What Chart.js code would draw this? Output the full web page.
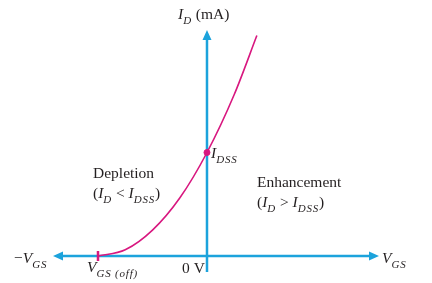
<!DOCTYPE html>
<html>
<head>
<meta charset="utf-8">
<script src="https://cdn.jsdelivr.net/npm/chart.js@4"></script>
<style>
  body { margin: 0; background: #fff; }
  #wrap { width: 432px; height: 283px; position: relative; }
</style>
</head>
<body>
<div id="wrap"><canvas id="fetChart"></canvas></div>
<script>
// Transfer curve (VGS in volts, ID in mA, VGS(off) = -4 V)
const vgsValues = [-4, -3, -2, -1, 0, 1, 1.83];
const idValues = [0, 0.6, 2.5, 5.6, 10, 15.6, 21.3];
// marked points
const idssPoint = [0, 10];
const offPoint = [-4, 0];

const cyan = '#1ca3dc';
const magenta = '#d8177f';
const serif = '"Liberation Serif", "Times New Roman", serif';

// draw text made of pieces: [text, italic, subscript]
function richText(ctx, x, y, parts, size) {
  parts.forEach(function(p) {
    const s = p[2] ? 11 : size;
    ctx.font = (p[1] ? 'italic ' : '') + s + 'px ' + serif;
    ctx.letterSpacing = p[2] ? '0.8px' : '0px';
    ctx.fillText(p[0], x, p[2] ? y + 4.5 : y);
    x += ctx.measureText(p[0]).width;
  });
}

const axesPlugin = {
  id: 'arrowAxes',
  beforeDatasetsDraw(chart) {
    const ctx = chart.ctx;
    const a = chart.chartArea;
    const x0 = chart.scales.x.getPixelForValue(0);
    const y0 = chart.scales.y.getPixelForValue(0);
    ctx.save();
    ctx.strokeStyle = cyan;
    ctx.fillStyle = cyan;
    ctx.lineWidth = 2.5;
    ctx.beginPath();
    ctx.moveTo(a.left + 6, y0);
    ctx.lineTo(a.right - 6, y0);
    ctx.moveTo(x0, a.bottom);
    ctx.lineTo(x0, a.top + 6);
    ctx.stroke();
    // arrow heads
    ctx.beginPath();
    ctx.moveTo(a.left, y0); ctx.lineTo(a.left + 10, y0 - 4.5); ctx.lineTo(a.left + 10, y0 + 4.5);
    ctx.closePath();
    ctx.moveTo(a.right, y0); ctx.lineTo(a.right - 10, y0 - 4.5); ctx.lineTo(a.right - 10, y0 + 4.5);
    ctx.closePath();
    ctx.moveTo(x0, a.top); ctx.lineTo(x0 - 4.5, a.top + 10); ctx.lineTo(x0 + 4.5, a.top + 10);
    ctx.closePath();
    ctx.fill();
    ctx.restore();
  },
  afterDraw(chart) {
    const ctx = chart.ctx;
    ctx.save();
    ctx.fillStyle = '#231f20';
    ctx.textBaseline = 'alphabetic';
    const fs = 15.5;
    richText(ctx, 178, 19, [['I', true], ['D', true, true], [' (mA)', false]], fs);
    richText(ctx, 211, 158, [['I', true], ['DSS', true, true]], fs);
    richText(ctx, 93, 178, [['Depletion', false]], fs);
    richText(ctx, 93, 198, [['(', false], ['I', true], ['D', true, true], [' < ', false], ['I', true], ['DSS', true, true], [')', false]], fs);
    richText(ctx, 257, 187, [['Enhancement', false]], fs);
    richText(ctx, 257, 207, [['(', false], ['I', true], ['D', true, true], [' > ', false], ['I', true], ['DSS', true, true], [')', false]], fs);
    richText(ctx, 14, 263, [['\u2212', false], ['V', true], ['GS', true, true]], fs);
    richText(ctx, 382, 263, [['V', true], ['GS', true, true]], fs);
    richText(ctx, 87, 272, [['V', true], ['GS (off)', true, true]], fs);
    richText(ctx, 182, 273, [['0 V', false]], fs);
    ctx.restore();
  }
};

new Chart(document.getElementById('fetChart'), {
  type: 'scatter',
  data: {
    datasets: [{
      data: vgsValues.map((v, i) => ({ x: v, y: idValues[i] })),
      showLine: true,
      borderColor: magenta,
      borderWidth: 1.6,
      cubicInterpolationMode: 'monotone',
      pointRadius: 0
    }, {
      data: [{ x: idssPoint[0], y: idssPoint[1] }],
      pointRadius: 3,
      backgroundColor: magenta,
      borderColor: magenta
    }, {
      data: [{ x: offPoint[0], y: offPoint[1] }],
      pointStyle: 'line',
      rotation: 90,
      pointRadius: 5,
      borderWidth: 2.5,
      borderColor: magenta
    }]
  },
  options: {
    responsive: true,
    maintainAspectRatio: false,
    animation: false,
    layout: { padding: { left: 53, right: 53, top: 30, bottom: 11 } },
    scales: {
      x: { display: false, min: -5.651, max: 6.312 },
      y: { display: false, min: -1.546, max: 21.836 }
    },
    plugins: { legend: { display: false }, tooltip: { enabled: false } }
  },
  plugins: [axesPlugin]
});
</script>
</body>
</html>
